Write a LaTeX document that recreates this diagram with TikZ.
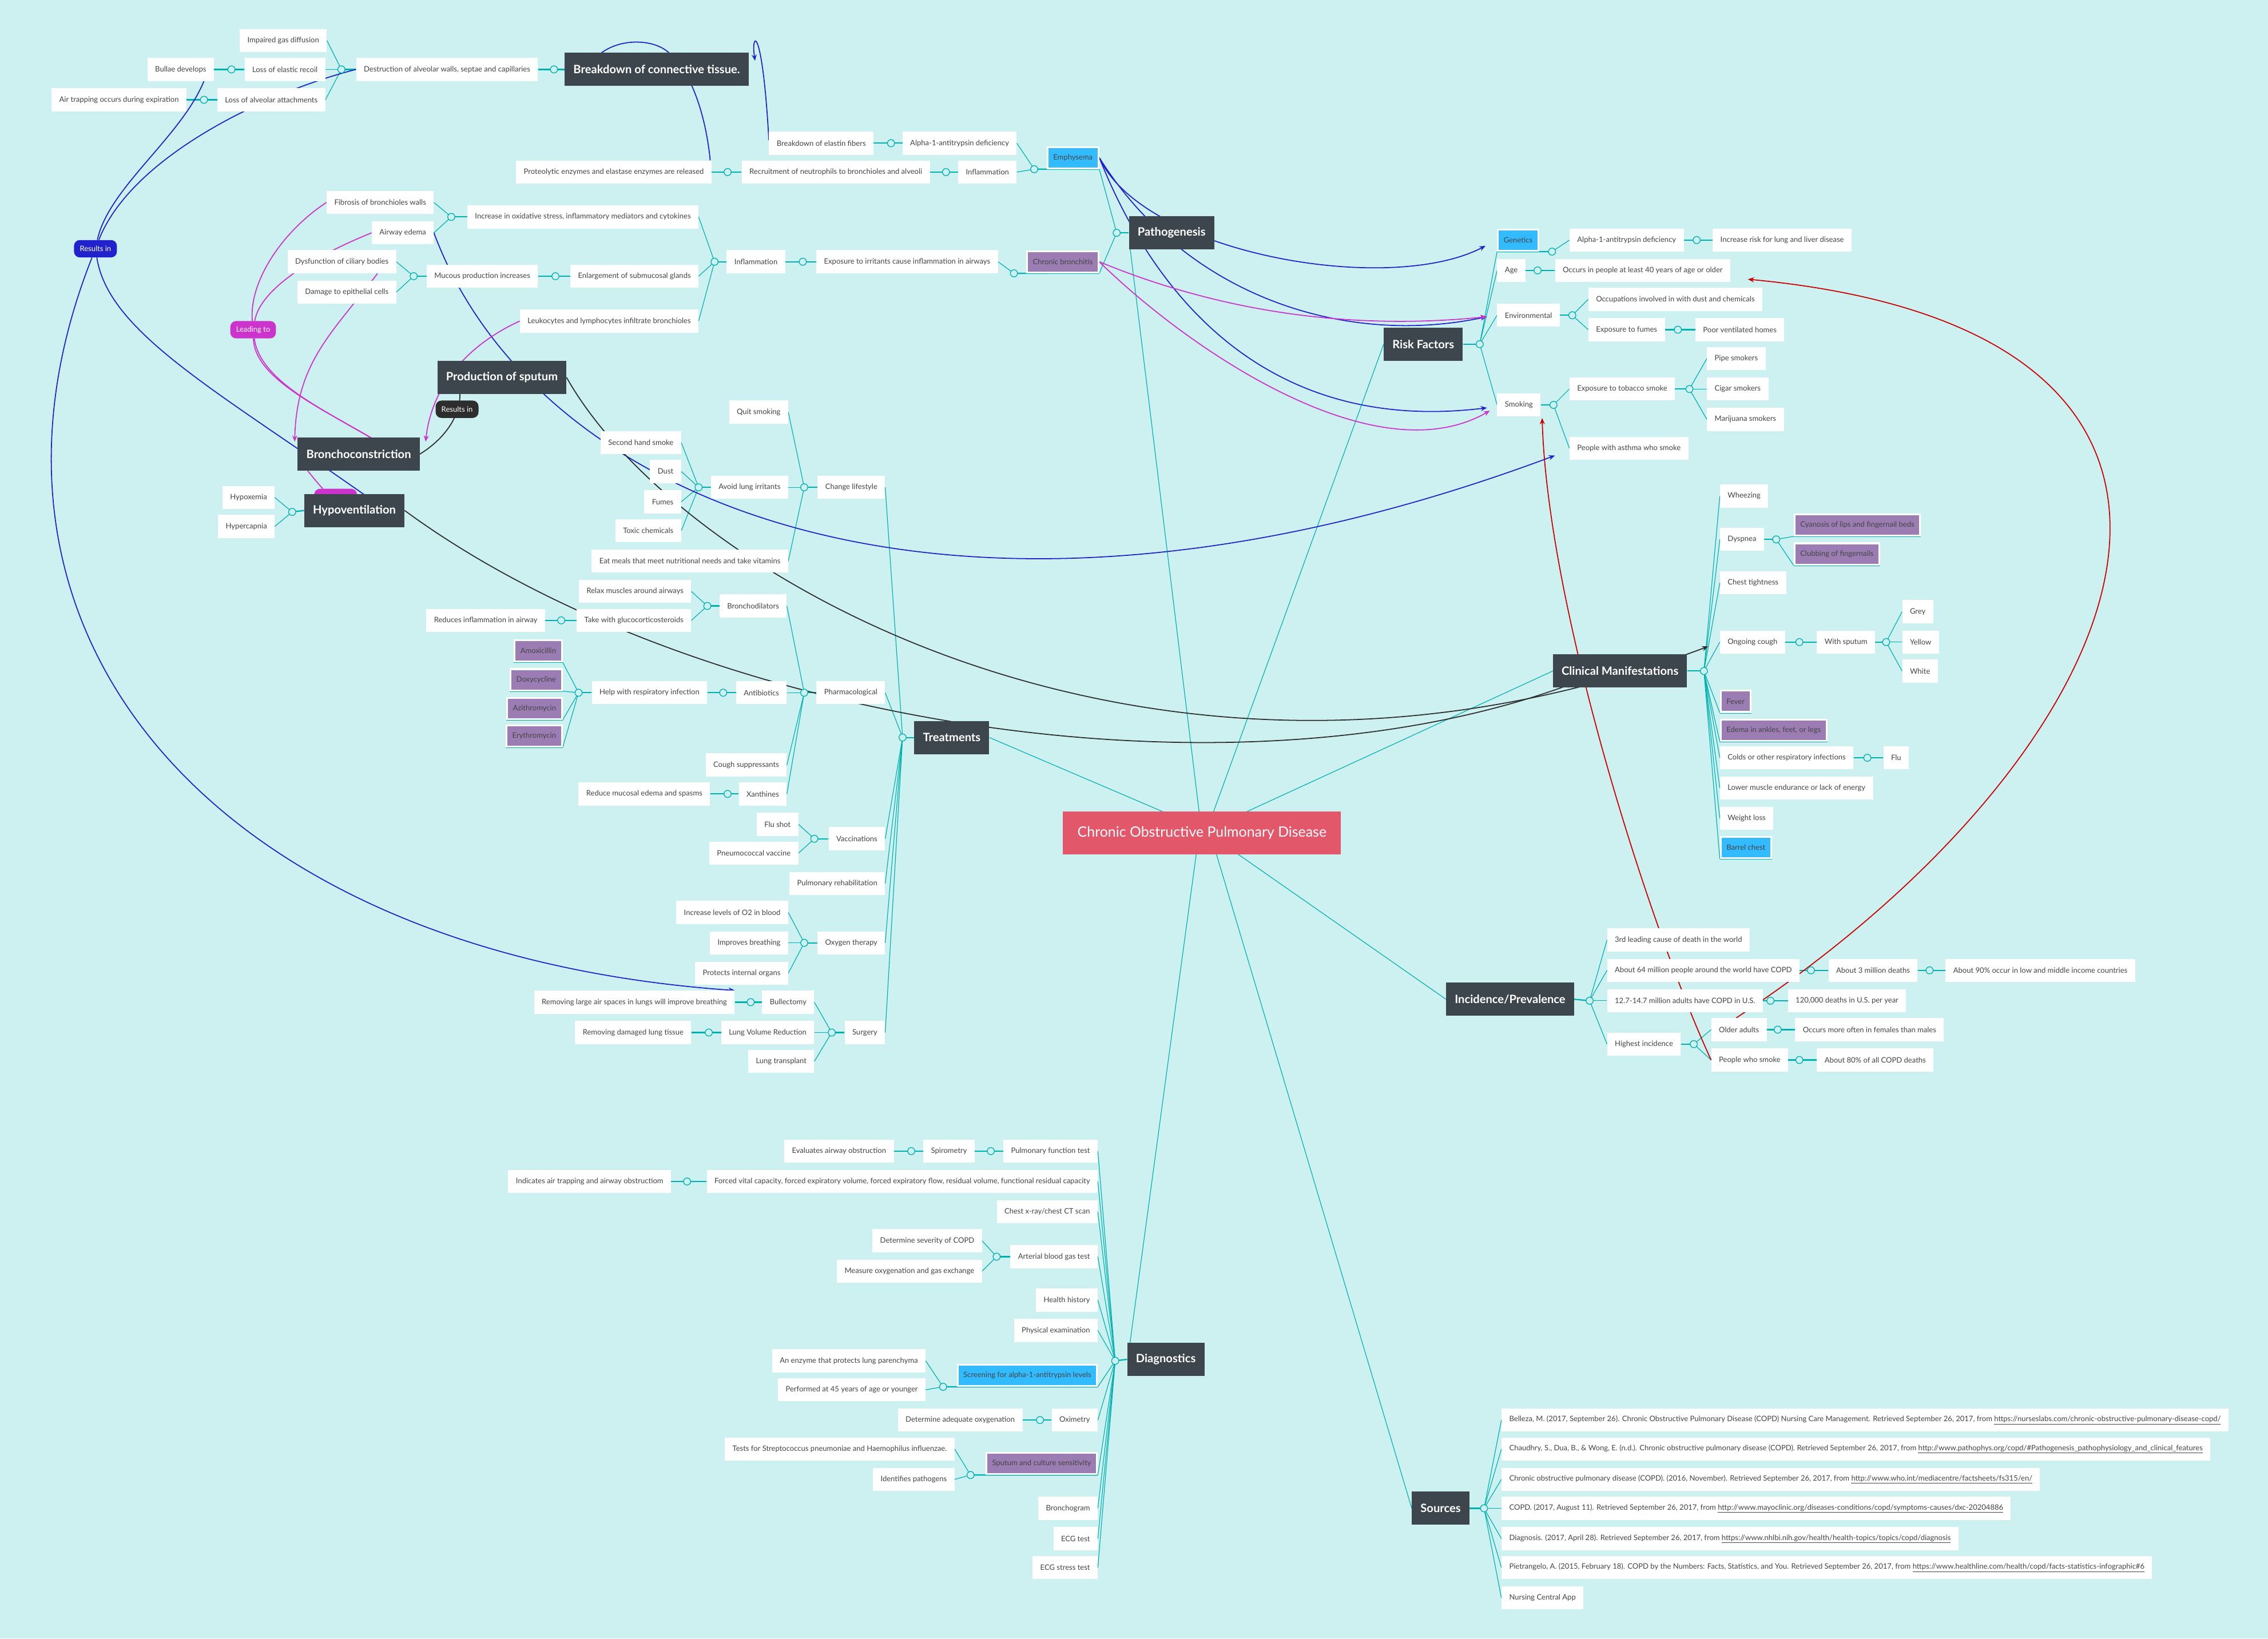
\documentclass[tikz,border=0pt]{standalone}
\usepackage{fontspec}
\setmainfont{Lato}
\usetikzlibrary{positioning,calc,arrows.meta}
\definecolor{MapBg}{RGB}{205,240,240}
\definecolor{MapTeal}{RGB}{0,176,176}
\definecolor{Slate}{RGB}{61,69,77}
\definecolor{CoreRed}{RGB}{226,88,106}
\definecolor{SkyTag}{RGB}{51,187,255}
\definecolor{LilacTag}{RGB}{155,125,179}
\definecolor{RelBlue}{RGB}{34,34,204}
\definecolor{RelPink}{RGB}{204,51,204}
\definecolor{RelRed}{RGB}{204,0,0}
\definecolor{RelDark}{RGB}{45,45,45}
\definecolor{Ink}{RGB}{68,68,68}
\pgfdeclarelayer{paper}
\pgfdeclarelayer{links}
\pgfsetlayers{paper,links,main}
\tikzset{
  leaf/.style={fill=white,text=Ink,font=\fontsize{11}{13}\selectfont,minimum height=1.2cm,inner xsep=0.4cm,inner ysep=0pt},
  tagblue/.style={leaf,fill=SkyTag,draw=white,line width=2.6pt,minimum height=1.1cm,inner xsep=0.3cm},
  taglilac/.style={leaf,fill=LilacTag,draw=white,line width=2.6pt,minimum height=1.1cm,inner xsep=0.3cm},
  topic/.style={fill=Slate,text=white,font=\fontsize{17}{19}\selectfont\bfseries,minimum height=1.72cm,inner xsep=0.45cm},
  core/.style={fill=CoreRed,text=white,font=\fontsize{21}{24}\selectfont,minimum height=2.2cm,inner xsep=0.75cm},
  knot/.style={circle,draw=MapTeal,fill=MapBg,line width=1.1pt,minimum size=0.37cm,inner sep=0pt},
  stem/.style={draw=MapTeal,line width=1.9pt},
  twig/.style={draw=MapTeal,line width=1pt},
  rel/.style={line width=1.5pt,-{Stealth[length=0.32cm,width=0.26cm]}},
  pill/.style={rounded corners=0.3cm,text=white,font=\fontsize{11}{13}\selectfont,minimum height=0.9cm,inner xsep=0.3cm},
}

\begin{document}
\begin{tikzpicture}[x=0.075cm,y=-0.075cm]
\useasboundingbox (0,0) rectangle (1568,1133);
\begin{pgfonlayer}{paper}
\fill[MapBg] (0,0) rectangle (1568,1133);
\end{pgfonlayer}

% label that hides under Hypoventilation
\node[pill,fill=RelPink] (resD) at (232,344) {Results in};

% centre and main topics
\node[core] (copd) at (831,576) {Chronic Obstructive Pulmonary Disease};
\node[topic] (tissue) at (454,48) {Breakdown of connective tissue.};
\node[topic] (patho) at (810,161) {Pathogenesis};
\node[topic] (risk) at (984,238) {Risk Factors};
\node[topic] (sputum) at (347,261) {Production of sputum};
\node[topic] (broncho) at (248,314) {Bronchoconstriction};
\node[topic] (hypo) at (245,353) {Hypoventilation};
\node[topic] (treat) at (658,510) {Treatments};
\node[topic] (clinic) at (1120,464) {Clinical Manifestations};
\node[topic] (incid) at (1044,691) {Incidence/Prevalence};
\node[topic] (diag) at (806,940) {Diagnostics};
\node[topic] (sources) at (996,1043) {Sources};

% breakdown of connective tissue
\coordinate (jTis) at (383,48);
\coordinate (jDes) at (236,48);
\coordinate (jRec) at (160,48);
\coordinate (jAtt) at (141,69);
\node[leaf,anchor=east] (destroy) at (372,48) {Destruction of alveolar walls, septae and capillaries};
\node[leaf,anchor=east] (gasdiff) at (226,28) {Impaired gas diffusion};
\node[leaf,anchor=east] (recoil) at (225,48) {Loss of elastic recoil};
\node[leaf,anchor=east] (attach) at (225,69) {Loss of alveolar attachments};
\node[leaf,anchor=east] (bullae) at (148,48) {Bullae develops};
\node[leaf,anchor=east] (airtrap) at (129,69) {Air trapping occurs during expiration};

% pathogenesis
\coordinate (jPat) at (772,161);
\coordinate (jEmp) at (715,117);
\coordinate (jChb) at (701,189);
\coordinate (jAat) at (616,99);
\coordinate (jInE) at (654,119);
\coordinate (jRcr) at (503,119);
\coordinate (jIrr) at (555,181);
\coordinate (jInB) at (494,181);
\coordinate (jOxi) at (312,150);
\coordinate (jEnl) at (384,191);
\coordinate (jMuc) at (286,191);
\node[tagblue,anchor=east] (emph) at (760,109) {Emphysema};
\node[taglilac,anchor=east] (chronb) at (760,181) {Chronic bronchitis};
\node[leaf,anchor=east] (aat) at (703,99) {Alpha-1-antitrypsin deficiency};
\node[leaf,anchor=east] (inflE) at (703,119) {Inflammation};
\node[leaf,anchor=east] (elastin) at (604,99) {Breakdown of elastin fibers};
\node[leaf,anchor=east] (recruit) at (643,119) {Recruitment of neutrophils to bronchioles and alveoli};
\node[leaf,anchor=east] (proteo) at (492,119) {Proteolytic enzymes and elastase enzymes are released};
\node[leaf,anchor=east] (irrit) at (690,181) {Exposure to irritants cause inflammation in airways};
\node[leaf,anchor=east] (inflB) at (543,181) {Inflammation};
\node[leaf,anchor=east] (oxid) at (483,150) {Increase in oxidative stress, inflammatory mediators and cytokines};
\node[leaf,anchor=east] (enlarg) at (483,191) {Enlargement of submucosal glands};
\node[leaf,anchor=east] (leuko) at (483,222) {Leukocytes and lymphocytes infiltrate bronchioles};
\node[leaf,anchor=east] (fibros) at (300,140) {Fibrosis of bronchioles walls};
\node[leaf,anchor=east] (edema) at (300,161) {Airway edema};
\node[leaf,anchor=east] (mucous) at (372,191) {Mucous production increases};
\node[leaf,anchor=east] (cilia) at (274,181) {Dysfunction of ciliary bodies};
\node[leaf,anchor=east] (epith) at (274,202) {Damage to epithelial cells};

% risk factors
\coordinate (jRsk) at (1023,238);
\coordinate (jGen) at (1073,174);
\coordinate (jAaR) at (1173,166);
\coordinate (jAge) at (1063,187);
\coordinate (jEnv) at (1087,218);
\coordinate (jFum) at (1160,228);
\coordinate (jSmk) at (1074,280);
\coordinate (jTob) at (1168,269);
\node[tagblue,anchor=west] (genet) at (1035,166) {Genetics};
\node[leaf,anchor=west] (age) at (1035,187) {Age};
\node[leaf,anchor=west] (envir) at (1035,218) {Environmental};
\node[leaf,anchor=west] (smoking) at (1035,280) {Smoking};
\node[leaf,anchor=west] (aatR) at (1085,166) {Alpha-1-antitrypsin deficiency};
\node[leaf,anchor=west] (liver) at (1184,166) {Increase risk for lung and liver disease};
\node[leaf,anchor=west] (age40) at (1075,187) {Occurs in people at least 40 years of age or older};
\node[leaf,anchor=west] (occup) at (1098,207) {Occupations involved in with dust and chemicals};
\node[leaf,anchor=west] (fumes) at (1098,228) {Exposure to fumes};
\node[leaf,anchor=west] (homes) at (1172,228) {Poor ventilated homes};
\node[leaf,anchor=west] (tobacco) at (1085,269) {Exposure to tobacco smoke};
\node[leaf,anchor=west] (asthma) at (1085,310) {People with asthma who smoke};
\node[leaf,anchor=west] (pipe) at (1180,248) {Pipe smokers};
\node[leaf,anchor=west] (cigar) at (1180,269) {Cigar smokers};
\node[leaf,anchor=west] (mj) at (1180,290) {Marijuana smokers};

% clinical manifestations
\coordinate (jCli) at (1178,464);
\coordinate (jDys) at (1228,373);
\coordinate (jCou) at (1244,444);
\coordinate (jSpu) at (1304,444);
\coordinate (jCol) at (1291,524);
\node[leaf,anchor=west] (wheez) at (1189,343) {Wheezing};
\node[leaf,anchor=west] (dysp) at (1189,373) {Dyspnea};
\node[leaf,anchor=west] (tight) at (1189,403) {Chest tightness};
\node[leaf,anchor=west] (cough) at (1189,444) {Ongoing cough};
\node[taglilac,anchor=west] (fever) at (1189,485) {Fever};
\node[taglilac,anchor=west] (edemaC) at (1189,505) {Edema in ankles, feet, or legs};
\node[leaf,anchor=west] (colds) at (1189,524) {Colds or other respiratory infections};
\node[leaf,anchor=west] (energy) at (1189,545) {Lower muscle endurance or lack of energy};
\node[leaf,anchor=west] (weight) at (1189,566) {Weight loss};
\node[tagblue,anchor=west] (barrel) at (1189,586) {Barrel chest};
\node[taglilac,anchor=west] (cyano) at (1240,363) {Cyanosis of lips and fingernail beds};
\node[taglilac,anchor=west] (clubb) at (1240,383) {Clubbing of fingernails};
\node[leaf,anchor=west] (sput) at (1256,444) {With sputum};
\node[leaf,anchor=west] (sputG) at (1315,423) {Grey};
\node[leaf,anchor=west] (sputY) at (1315,444) {Yellow};
\node[leaf,anchor=west] (sputW) at (1315,464) {White};
\node[leaf,anchor=west] (flu) at (1302,524) {Flu};

% incidence / prevalence
\coordinate (jInc) at (1099,692);
\coordinate (j64) at (1252,671);
\coordinate (jM3) at (1334,671);
\coordinate (jUS) at (1224,692);
\coordinate (jHig) at (1171,722);
\coordinate (jOld) at (1229,712);
\coordinate (jSmr) at (1244,733);
\node[leaf,anchor=west] (third) at (1111,650) {3rd leading cause of death in the world};
\node[leaf,anchor=west] (m64) at (1111,671) {About 64 million people around the world have COPD};
\node[leaf,anchor=west] (us147) at (1111,692) {12.7-14.7 million adults have COPD in U.S.};
\node[leaf,anchor=west] (highest) at (1111,722) {Highest incidence};
\node[leaf,anchor=west] (m3) at (1264,671) {About 3 million deaths};
\node[leaf,anchor=west] (low) at (1345,671) {About 90\% occur in low and middle income countries};
\node[leaf,anchor=west] (d120) at (1236,692) {120,000 deaths in U.S. per year};
\node[leaf,anchor=west] (oldad) at (1183,712) {Older adults};
\node[leaf,anchor=west] (smkr) at (1183,733) {People who smoke};
\node[leaf,anchor=west] (fem) at (1241,712) {Occurs more often in females than males};
\node[leaf,anchor=west] (p80) at (1256,733) {About 80\% of all COPD deaths};

% sources
\coordinate (jSrc) at (1026,1043);
\node[leaf,anchor=west] (src1) at (1038,982) {Belleza, M. (2017, September 26). Chronic Obstructive Pulmonary Disease (COPD) Nursing Care Management. Retrieved September 26, 2017, from \underline{https://nurseslabs.com/chronic-obstructive-pulmonary-disease-copd/}};
\node[leaf,anchor=west] (src2) at (1038,1002) {Chaudhry, S., Dua, B., \& Wong, E. (n.d.). Chronic obstructive pulmonary disease (COPD). Retrieved September 26, 2017, from \underline{http://www.pathophys.org/copd/\#Pathogenesis\_pathophysiology\_and\_clinical\_features}};
\node[leaf,anchor=west] (src3) at (1038,1023) {Chronic obstructive pulmonary disease (COPD). (2016, November). Retrieved September 26, 2017, from \underline{http://www.who.int/mediacentre/factsheets/fs315/en/}};
\node[leaf,anchor=west] (src4) at (1038,1043) {COPD. (2017, August 11). Retrieved September 26, 2017, from \underline{http://www.mayoclinic.org/diseases-conditions/copd/symptoms-causes/dxc-20204886}};
\node[leaf,anchor=west] (src5) at (1038,1064) {Diagnosis. (2017, April 28). Retrieved September 26, 2017, from \underline{https://www.nhlbi.nih.gov/health/health-topics/topics/copd/diagnosis}};
\node[leaf,anchor=west] (src6) at (1038,1084) {Pietrangelo, A. (2015, February 18). COPD by the Numbers: Facts, Statistics, and You. Retrieved September 26, 2017, from \underline{https://www.healthline.com/health/copd/facts-statistics-infographic\#6}};
\node[leaf,anchor=west] (src7) at (1038,1105) {Nursing Central App};

% treatments
\coordinate (jTrt) at (624,510);
\coordinate (jLif) at (556,337);
\coordinate (jAvo) at (483,337);
\coordinate (jPha) at (556,479);
\coordinate (jBdi) at (489,419);
\coordinate (jGlu) at (388,429);
\coordinate (jAbx) at (500,479);
\coordinate (jHel) at (400,479);
\coordinate (jXan) at (503,549);
\coordinate (jVac) at (563,580);
\coordinate (jOxy) at (556,652);
\coordinate (jSur) at (575,714);
\coordinate (jBul) at (519,693);
\coordinate (jLvr) at (490,714);
\node[leaf,anchor=east] (lifes) at (612,337) {Change lifestyle};
\node[leaf,anchor=east] (pharma) at (612,479) {Pharmacological};
\node[leaf,anchor=east] (vacc) at (612,580) {Vaccinations};
\node[leaf,anchor=east] (rehab) at (612,611) {Pulmonary rehabilitation};
\node[leaf,anchor=east] (oxy) at (612,652) {Oxygen therapy};
\node[leaf,anchor=east] (surg) at (612,714) {Surgery};
\node[leaf,anchor=east] (quit) at (545,285) {Quit smoking};
\node[leaf,anchor=east] (avoid) at (545,337) {Avoid lung irritants};
\node[leaf,anchor=east] (meals) at (545,388) {Eat meals that meet nutritional needs and take vitamins};
\node[leaf,anchor=east] (shs) at (471,306) {Second hand smoke};
\node[leaf,anchor=east] (dust) at (471,326) {Dust};
\node[leaf,anchor=east] (fumesT) at (471,347) {Fumes};
\node[leaf,anchor=east] (toxic) at (471,367) {Toxic chemicals};
\node[leaf,anchor=east] (bdil) at (544,419) {Bronchodilators};
\node[leaf,anchor=east] (abx) at (544,479) {Antibiotics};
\node[leaf,anchor=east] (cough2) at (544,529) {Cough suppressants};
\node[leaf,anchor=east] (xan) at (544,549) {Xanthines};
\node[leaf,anchor=east] (relax) at (478,409) {Relax muscles around airways};
\node[leaf,anchor=east] (gluco) at (478,429) {Take with glucocorticosteroids};
\node[leaf,anchor=east] (redinf) at (377,429) {Reduces inflammation in airway};
\node[leaf,anchor=east] (helpinf) at (489,479) {Help with respiratory infection};
\node[taglilac,anchor=east] (amox) at (389,450) {Amoxicillin};
\node[taglilac,anchor=east] (doxy) at (389,470) {Doxycycline};
\node[taglilac,anchor=east] (azith) at (389,490) {Azithromycin};
\node[taglilac,anchor=east] (eryth) at (389,509) {Erythromycin};
\node[leaf,anchor=east] (mucosal) at (491,549) {Reduce mucosal edema and spasms};
\node[leaf,anchor=east] (flushot) at (552,570) {Flu shot};
\node[leaf,anchor=east] (pneumo) at (552,590) {Pneumococcal vaccine};
\node[leaf,anchor=east] (o2) at (545,631) {Increase levels of O2 in blood};
\node[leaf,anchor=east] (breath) at (545,652) {Improves breathing};
\node[leaf,anchor=east] (organs) at (545,673) {Protects internal organs};
\node[leaf,anchor=east] (bullect) at (563,693) {Bullectomy};
\node[leaf,anchor=east] (lvr) at (563,714) {Lung Volume Reduction};
\node[leaf,anchor=east] (transp) at (563,734) {Lung transplant};
\node[leaf,anchor=east] (largeair) at (508,693) {Removing large air spaces in lungs will improve breathing};
\node[leaf,anchor=east] (damaged) at (478,714) {Removing damaged lung tissue};

% diagnostics
\coordinate (jDia) at (771,941);
\coordinate (jPft) at (685,796);
\coordinate (jSpi) at (630,796);
\coordinate (jFvc) at (475,817);
\coordinate (jAbg) at (689,869);
\coordinate (jScr) at (652,959);
\coordinate (jOxm) at (719,982);
\coordinate (jCul) at (671,1020);
\node[leaf,anchor=east] (pft) at (759,796) {Pulmonary function test};
\node[leaf,anchor=east] (fvc) at (759,817) {Forced vital capacity, forced expiratory volume, forced expiratory flow, residual volume, functional residual capacity};
\node[leaf,anchor=east] (xray) at (759,838) {Chest x-ray/chest CT scan};
\node[leaf,anchor=east] (abg) at (759,869) {Arterial blood gas test};
\node[leaf,anchor=east] (hist) at (759,899) {Health history};
\node[leaf,anchor=east] (phys) at (759,920) {Physical examination};
\node[tagblue,anchor=east] (screen) at (759,951) {Screening for alpha-1-antitrypsin levels};
\node[leaf,anchor=east] (oxim) at (759,982) {Oximetry};
\node[taglilac,anchor=east] (cult) at (759,1012) {Sputum and culture sensitivity};
\node[leaf,anchor=east] (bgram) at (759,1043) {Bronchogram};
\node[leaf,anchor=east] (ecg) at (759,1064) {ECG test};
\node[leaf,anchor=east] (stress) at (759,1084) {ECG stress test};
\node[leaf,anchor=east] (spiro) at (674,796) {Spirometry};
\node[leaf,anchor=east] (evalu) at (618,796) {Evaluates airway obstruction};
\node[leaf,anchor=east] (indic) at (464,817) {Indicates air trapping and airway obstructiom};
\node[leaf,anchor=east] (sever) at (679,858) {Determine severity of COPD};
\node[leaf,anchor=east] (measure) at (679,879) {Measure oxygenation and gas exchange};
\node[leaf,anchor=east] (enzyme) at (640,941) {An enzyme that protects lung parenchyma};
\node[leaf,anchor=east] (age45) at (640,961) {Performed at 45 years of age or younger};
\node[leaf,anchor=east] (adeq) at (707,982) {Determine adequate oxygenation};
\node[leaf,anchor=east] (strep) at (660,1002) {Tests for Streptococcus pneumoniae and Haemophilus influenzae.};
\node[leaf,anchor=east] (pathog) at (660,1023) {Identifies pathogens};

% hypoventilation
\coordinate (jHyp) at (202,354);
\node[leaf,anchor=east] (hypox) at (190,344) {Hypoxemia};
\node[leaf,anchor=east] (hyperc) at (190,364) {Hypercapnia};

% labels on relationships
\node[pill,fill=RelBlue] (resA) at (66,172) {Results in};
\node[pill,fill=RelPink] (leadB) at (175,228) {Leading to};
\node[pill,fill=RelDark] (resC) at (316,283) {Results in};

\begin{pgfonlayer}{links}
% main branches
\draw[twig] ($(copd.north)+(-2,0)$) -- ($(patho.south west)+(1,0)$);
\draw[twig] ($(copd.north)+(8,0)$) -- (risk.west);
\draw[twig] ($(copd.north west)+(69,0)$) -- (treat.east);
\draw[twig] ($(copd.north)+(31,0)$) -- (clinic.west);
\draw[twig] ($(copd.south)+(25,0)$) -- (incid.west);
\draw[twig] ($(copd.south)+(-4,0)$) -- ($(diag.north west)+(2,0)$);
\draw[twig] ($(copd.south)+(10,0)$) -- (sources.west);

% breakdown tree
\draw[stem] (tissue.west) -- (destroy.east);
\draw[stem] (destroy.west) -- (jDes);
\foreach \c in {gasdiff,recoil,attach} \draw[twig] (jDes) -- (\c.east);
\draw[stem] (recoil.west) -- (bullae.east);
\draw[stem] (attach.west) -- (airtrap.east);

% pathogenesis tree
\draw[stem] (patho.west) -- (jPat);
\draw[twig] (jPat) -- (emph.south east);
\draw[twig] (jPat) -- (chronb.south east);
\draw[stem] (emph.south east) -- (jEmp);
\foreach \c in {aat,inflE} \draw[twig] (jEmp) -- (\c.east);
\draw[stem] (aat.west) -- (elastin.east);
\draw[stem] (inflE.west) -- (recruit.east);
\draw[stem] (recruit.west) -- (proteo.east);
\draw[stem] (chronb.south east) -- (jChb);
\draw[twig] (jChb) -- (irrit.east);
\draw[stem] (irrit.west) -- (inflB.east);
\draw[stem] (inflB.west) -- (jInB);
\foreach \c in {oxid,enlarg,leuko} \draw[twig] (jInB) -- (\c.east);
\draw[stem] (oxid.west) -- (jOxi);
\foreach \c in {fibros,edema} \draw[twig] (jOxi) -- (\c.east);
\draw[stem] (enlarg.west) -- (mucous.east);
\draw[stem] (mucous.west) -- (jMuc);
\foreach \c in {cilia,epith} \draw[twig] (jMuc) -- (\c.east);

% risk tree
\draw[stem] (risk.east) -- (jRsk);
\draw[twig] (jRsk) -- (genet.south west);
\foreach \c in {age,envir,smoking} \draw[twig] (jRsk) -- (\c.west);
\draw[stem] (genet.south west) -- (jGen);
\draw[twig] (jGen) -- (aatR.west);
\draw[stem] (aatR.east) -- (liver.west);
\draw[stem] (age.east) -- (age40.west);
\draw[stem] (envir.east) -- (jEnv);
\foreach \c in {occup,fumes} \draw[twig] (jEnv) -- (\c.west);
\draw[stem] (fumes.east) -- (homes.west);
\draw[stem] (smoking.east) -- (jSmk);
\foreach \c in {tobacco,asthma} \draw[twig] (jSmk) -- (\c.west);
\draw[stem] (tobacco.east) -- (jTob);
\foreach \c in {pipe,cigar,mj} \draw[twig] (jTob) -- (\c.west);

% clinical tree
\draw[stem] (clinic.east) -- (jCli);
\foreach \c in {wheez,dysp,tight,cough,colds,energy,weight} \draw[twig] (jCli) -- (\c.west);
\foreach \c in {fever,edemaC,barrel} {
  \draw[twig] (jCli) -- (\c.south west);
  \draw[stem] (\c.south west) -- (\c.south east);
}
\draw[stem] (dysp.east) -- (jDys);
\foreach \c in {cyano,clubb} {
  \draw[twig] (jDys) -- (\c.south west);
  \draw[stem] (\c.south west) -- (\c.south east);
}
\draw[stem] (cough.east) -- (sput.west);
\draw[stem] (sput.east) -- (jSpu);
\foreach \c in {sputG,sputY,sputW} \draw[twig] (jSpu) -- (\c.west);
\draw[stem] (colds.east) -- (flu.west);

% incidence tree
\draw[stem] (incid.east) -- (jInc);
\foreach \c in {third,m64,us147,highest} \draw[twig] (jInc) -- (\c.west);
\draw[stem] (m64.east) -- (m3.west);
\draw[stem] (m3.east) -- (low.west);
\draw[stem] (us147.east) -- (d120.west);
\draw[stem] (highest.east) -- (jHig);
\foreach \c in {oldad,smkr} \draw[twig] (jHig) -- (\c.west);
\draw[stem] (oldad.east) -- (fem.west);
\draw[stem] (smkr.east) -- (p80.west);

% sources tree
\draw[stem] (sources.east) -- (jSrc);
\foreach \c in {1,...,7} \draw[twig] (jSrc) -- (src\c.west);

% treatments tree
\draw[stem] (treat.west) -- (jTrt);
\foreach \c in {lifes,pharma,vacc,rehab,oxy,surg} \draw[twig] (jTrt) -- (\c.east);
\draw[stem] (lifes.west) -- (jLif);
\foreach \c in {quit,avoid,meals} \draw[twig] (jLif) -- (\c.east);
\draw[stem] (avoid.west) -- (jAvo);
\foreach \c in {shs,dust,fumesT,toxic} \draw[twig] (jAvo) -- (\c.east);
\draw[stem] (pharma.west) -- (jPha);
\foreach \c in {bdil,abx,cough2,xan} \draw[twig] (jPha) -- (\c.east);
\draw[stem] (bdil.west) -- (jBdi);
\foreach \c in {relax,gluco} \draw[twig] (jBdi) -- (\c.east);
\draw[stem] (gluco.west) -- (redinf.east);
\draw[stem] (abx.west) -- (helpinf.east);
\draw[stem] (helpinf.west) -- (jHel);
\foreach \c in {amox,doxy,azith,eryth} {
  \draw[twig] (jHel) -- (\c.south east);
  \draw[stem] (\c.south east) -- (\c.south west);
}
\draw[stem] (xan.west) -- (mucosal.east);
\draw[stem] (vacc.west) -- (jVac);
\foreach \c in {flushot,pneumo} \draw[twig] (jVac) -- (\c.east);
\draw[stem] (oxy.west) -- (jOxy);
\foreach \c in {o2,breath,organs} \draw[twig] (jOxy) -- (\c.east);
\draw[stem] (surg.west) -- (jSur);
\foreach \c in {bullect,lvr,transp} \draw[twig] (jSur) -- (\c.east);
\draw[stem] (bullect.west) -- (largeair.east);
\draw[stem] (lvr.west) -- (damaged.east);

% diagnostics tree
\draw[stem] (diag.west) -- (jDia);
\foreach \c in {pft,fvc,xray,abg,hist,phys,oxim,bgram,ecg,stress} \draw[twig] (jDia) -- (\c.east);
\foreach \c in {screen,cult} \draw[twig] (jDia) -- (\c.south east);
\draw[stem] (pft.west) -- (spiro.east);
\draw[stem] (spiro.west) -- (evalu.east);
\draw[stem] (fvc.west) -- (indic.east);
\draw[stem] (abg.west) -- (jAbg);
\foreach \c in {sever,measure} \draw[twig] (jAbg) -- (\c.east);
\draw[stem] (screen.south east) -- (jScr);
\foreach \c in {enzyme,age45} \draw[twig] (jScr) -- (\c.east);
\draw[stem] (oxim.west) -- (adeq.east);
\draw[stem] (cult.south east) -- (jCul);
\foreach \c in {strep,pathog} \draw[twig] (jCul) -- (\c.east);

% hypoventilation tree
\draw[stem] (hypo.west) -- (jHyp);
\foreach \c in {hypox,hyperc} \draw[twig] (jHyp) -- (\c.east);

% relationships
\draw[rel,RelBlue] ($(bullae.south east)+(-7,0)$) .. controls (125,95) and (75,130) .. (resA)
  .. controls (-40,440) and (150,660) .. (largeair.north east);
\draw[rel,RelBlue] (destroy.west) .. controls (180,65) and (90,110) .. (resA)
  .. controls (75,230) and (150,270) .. ($(hypo.north)+(13,5)$);
\draw[line width=1.5pt,RelBlue] ($(proteo.north east)+(-1,0)$) .. controls (488,80) and (478,50) .. (463,37)
  .. controls (452,26) and (425,26) .. (412,40);
\draw[rel,RelBlue] ($(elastin.west)+(0,-2)$) .. controls (527,15) and (519,22) .. (522,42);
\draw[rel,RelBlue] (edema.east) .. controls (370,350) and (660,470) .. ($(asthma.west)+(-10,5)$);
\draw[rel,RelBlue] (emph.east) .. controls (790,175) and (960,205) .. ($(genet.west)+(-8,4)$);
\draw[rel,RelBlue] (emph.east) .. controls (820,205) and (930,240) .. ($(envir.west)+(-7,1)$);
\draw[rel,RelBlue] (emph.east) .. controls (800,210) and (880,300) .. ($(smoking.west)+(-7,2)$);
\draw[rel,RelPink] (chronb.east) .. controls (830,210) and (920,230) .. ($(envir.west)+(-7,1)$);
\draw[rel,RelPink] (chronb.east) .. controls (820,240) and (950,330) .. ($(smoking.west)+(-5,4)$);
\draw[line width=1.5pt,RelDark] ($(sputum.south)+(-29,0)$) .. controls (318,290) and (305,305) .. (broncho.east);
\draw[rel,RelDark] (sputum.east) .. controls (470,400) and (800,590) .. ($(cough.west)+(-8,3)$);
\draw[rel,RelDark] (hypo.east) .. controls (480,500) and (850,560) .. ($(clinic.south west)+(14,-3)$);
\draw[rel,RelPink] (fibros.west) .. controls (195,160) and (172,195) .. (leadB)
  .. controls (176,262) and (222,282) .. ($(broncho.north)+(18,6)$);
\draw[rel,RelPink] (edema.west) .. controls (215,178) and (180,200) .. (leadB)
  .. controls (180,265) and (228,285) .. ($(broncho.north)+(18,6)$);
\draw[rel,RelPink] ($(cilia.south east)+(-13,0)$) .. controls (230,230) and (205,250) .. ($(broncho.north west)+(-2,3)$);
\draw[rel,RelPink] (leuko.west) .. controls (320,240) and (298,270) .. ($(broncho.north east)+(4,3)$);
\draw[line width=1.5pt,RelPink] ($(broncho.south west)+(7,0)$) .. controls (218,332) and (222,337) .. (resD);
\draw[rel,RelRed] (smkr.west) .. controls (1140,640) and (1070,420) .. ($(smoking.south east)+(1,1)$);
\draw[rel,RelRed] ($(oldad.north)+(-2,0)$) .. controls (1480,520) and (1600,230) .. ($(age40.south east)+(12,-2)$);
\end{pgfonlayer}

% junction knots
\foreach \j in {jTis,jDes,jRec,jAtt,jPat,jEmp,jChb,jAat,jInE,jRcr,jIrr,jInB,jOxi,jEnl,jMuc,
  jRsk,jGen,jAaR,jAge,jEnv,jFum,jSmk,jTob,jCli,jDys,jCou,jSpu,jCol,
  jInc,j64,jM3,jUS,jHig,jOld,jSmr,jSrc,
  jTrt,jLif,jAvo,jPha,jBdi,jGlu,jAbx,jHel,jXan,jVac,jOxy,jSur,jBul,jLvr,
  jDia,jPft,jSpi,jFvc,jAbg,jScr,jOxm,jCul,jHyp}
  \node[knot] at (\j) {};
\end{tikzpicture}
\end{document}
